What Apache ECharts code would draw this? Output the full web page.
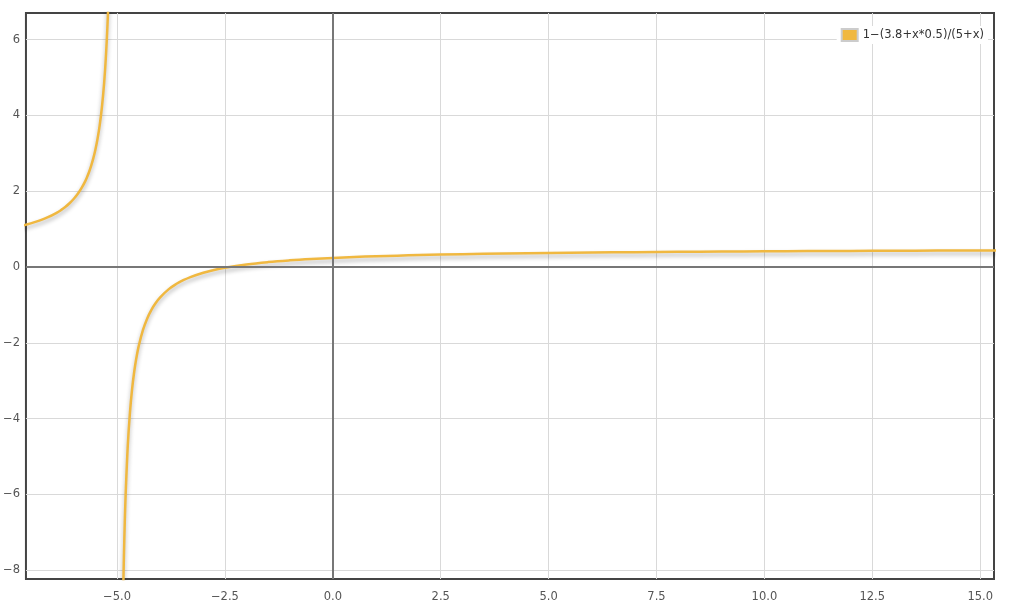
<!DOCTYPE html>
<html>
<head>
<meta charset="utf-8">
<script src="https://cdn.jsdelivr.net/npm/echarts@6/dist/echarts.min.js"></script>
<style>html,body{margin:0;padding:0;background:#fff}#c{width:1024px;height:615px}</style>
</head>
<body>
<div id="c"></div>
<script>
var seriesName = '1\u2212(3.8+x*0.5)/(5+x)';
var xTicks = [-5, -2.5, 0, 2.5, 5, 7.5, 10, 12.5, 15];
var yTicks = [-8, -6, -4, -2, 0, 2, 4, 6];
var xRange = [-7.11, 15.32];
var yRange = [-8.23, 6.70];
// left branch (x < -5)
var leftX = [-7.2, -7.0, -6.8, -6.6, -6.4, -6.3, -6.2, -6.1, -6.0, -5.9, -5.8, -5.75, -5.7, -5.65, -5.6, -5.55, -5.5, -5.45, -5.4, -5.35, -5.3, -5.26, -5.22, -5.2, -5.18];
var leftY = [1.091, 1.15, 1.222, 1.313, 1.429, 1.5, 1.583, 1.682, 1.8, 1.944, 2.125, 2.233, 2.357, 2.5, 2.667, 2.864, 3.1, 3.389, 3.75, 4.214, 4.833, 5.5, 6.409, 7.0, 7.722];
// right branch (x > -5)
var rightX = [-4.87, -4.86, -4.84, -4.82, -4.8, -4.75, -4.7, -4.65, -4.6, -4.55, -4.5, -4.4, -4.3, -4.2, -4.1, -4.0, -3.8, -3.6, -3.5, -3.3, -3.0, -2.8, -2.5, -2.0, -1.5, -1.0, -0.5, 0, 0.5, 1, 1.5, 2, 3, 4, 5, 6, 7, 8, 9, 10, 11, 12, 13, 14, 15, 15.4];
var rightY = [-9.5, -8.786, -7.625, -6.722, -6.0, -4.7, -3.833, -3.214, -2.75, -2.389, -2.1, -1.667, -1.357, -1.125, -0.944, -0.8, -0.583, -0.429, -0.367, -0.265, -0.15, -0.091, -0.02, 0.067, 0.129, 0.175, 0.211, 0.24, 0.264, 0.283, 0.3, 0.314, 0.338, 0.356, 0.37, 0.382, 0.392, 0.4, 0.407, 0.413, 0.419, 0.424, 0.428, 0.432, 0.435, 0.436];

function pairs(xs, ys) { return xs.map(function (x, i) { return [x, ys[i]]; }); }
function fmt(d) { return function (v) { var s = Number(v).toFixed(d); return s.charAt(0) === '-' ? '\u2212' + s.slice(1) : s; }; }

var lineColor = '#f0b840';
var FONT = '"DejaVu Sans", sans-serif';
var curveStyle = {
  type: 'line', name: seriesName, showSymbol: false, symbol: 'none', z: 3,
  smooth: 0.4, clip: true,
  lineStyle: { color: lineColor, width: 2.5, shadowColor: 'rgba(0,0,0,0.3)', shadowBlur: 4, shadowOffsetY: 3 },
  itemStyle: { color: lineColor, borderColor: '#ccc', borderWidth: 1 }
};

var chart = echarts.init(document.getElementById('c'), null, { renderer: 'canvas' });
chart.setOption({
  animation: false,
  textStyle: { fontFamily: FONT },
  grid: { left: 25, right: 30, top: 13, bottom: 36, show: true, borderColor: '#444', borderWidth: 2, backgroundColor: 'transparent', containLabel: false },
  legend: {
    data: [seriesName], right: 36, top: 26, itemWidth: 16, itemHeight: 12, itemGap: 6,
    backgroundColor: '#fff', padding: [2, 4], icon: 'rect',
    textStyle: { fontSize: 11.5, color: '#333', fontFamily: FONT }
  },
  xAxis: {
    type: 'value', min: xRange[0], max: xRange[1],
    axisLine: { show: false },
    axisTick: { show: false, customValues: xTicks },
    axisLabel: { customValues: xTicks, formatter: fmt(1), color: '#555', fontSize: 11.5, margin: 12, fontFamily: FONT },
    splitLine: { show: true, lineStyle: { color: '#d9d9d9', width: 1 } }
  },
  yAxis: {
    type: 'value', min: yRange[0], max: yRange[1],
    axisLine: { show: false },
    axisTick: { show: false, customValues: yTicks },
    axisLabel: { customValues: yTicks, formatter: fmt(0), color: '#555', fontSize: 11.5, margin: 6, fontFamily: FONT },
    splitLine: { show: true, lineStyle: { color: '#d9d9d9', width: 1 } }
  },
  series: [
    Object.assign({}, curveStyle, { data: pairs(leftX, leftY) }),
    Object.assign({}, curveStyle, { data: pairs(rightX, rightY) }),
    {
      type: 'line', name: 'zero', data: [], z: 1, silent: true,
      markLine: {
        silent: true, symbol: ['none', 'none'], animation: false,
        label: { show: false },
        lineStyle: { color: '#777', width: 2, type: 'solid' },
        emphasis: { disabled: true },
        data: [{ xAxis: 0 }, { yAxis: 0 }]
      }
    }
  ]
});
</script>
</body>
</html>
